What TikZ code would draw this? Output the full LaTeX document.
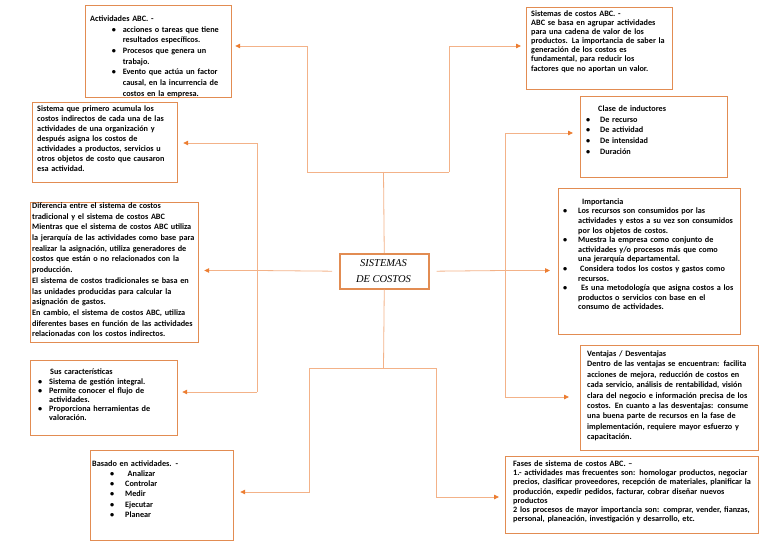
\documentclass[tikz,border=0pt]{standalone}
\usepackage{fontspec}
\setmainfont{Carlito}
\newfontfamily\ctrfont{Liberation Serif}
\usetikzlibrary{arrows.meta}
\definecolor{boxc}{RGB}{226,140,82}
\definecolor{linec}{RGB}{243,178,136}
\definecolor{arrc}{RGB}{236,125,49}
\newcommand\bul[3]{\par\hangindent=#2\hangafter=1\noindent\makebox[#2][l]{\hspace*{#1}\textbullet}#3\par}
\newcommand\ttl[2]{\par\noindent\hspace*{#1}#2\par}
\newcommand\mybox[5]{\node[box,anchor=north west,minimum width={#4-#2},minimum height={#5-#3}] (#1) at (#2,#3) {};}
\begin{document}
\begin{tikzpicture}[x=1pt,y=-1pt,
 box/.style={draw=boxc,line width=1.2pt,inner sep=0pt},
 txt/.style={anchor=north west,inner sep=0pt,text width=262pt,font=\fontsize{8.2}{#1}\selectfont\bfseries},
 ln/.style={draw=linec,line width=0.8pt},
 arr/.style={ln,-{Triangle[length=5pt,width=4.5pt,color=arrc]}}]
\useasboundingbox (0,0) rectangle (768,543);

% boxes
\mybox{A}{85}{5}{231}{97}
\mybox{B}{32}{102}{177}{182}
\mybox{C}{30}{202}{198}{342}
\mybox{D}{30}{360}{177}{435}
\mybox{E}{90}{450}{233}{540}
\mybox{F}{526}{7}{672}{89}
\mybox{G}{580}{96}{727}{177}
\mybox{H}{558}{188}{740}{334}
\mybox{I}{580}{345}{758}{450}
\mybox{J}{505}{456}{758}{533}
\node[box,line width=1.5pt,anchor=north west,minimum width=89,minimum height=35] (C0) at (339,253) {};
\node[font=\ctrfont\itshape\fontsize{10.5}{15.7}\selectfont,align=center,inner sep=0pt] (Ct) at (383.5,270.8) {SISTEMAS\\DE COSTOS};

% texts
\node[txt=10.7] (At) at (90,10.5) {\parindent0pt
\ttl{0pt}{Actividades ABC. -}
\bul{21.7pt}{32.7pt}{acciones o tareas que tiene\newline resultados específicos.}
\bul{21.7pt}{32.7pt}{Procesos que genera un\newline trabajo.}
\bul{21.7pt}{32.7pt}{Evento que actúa un factor\newline causal, en la incurrencia de\newline costos en la empresa.}};

\node[txt=10] (Bt) at (37,105.5) {\parindent0pt
Sistema que primero acumula los\newline costos indirectos de cada una de las\newline actividades de una organización y\newline después asigna los costos de\newline actividades a productos, servicios u\newline otros objetos de costo que causaron\newline esa actividad.};

\node[txt=10.7] (Ctx) at (32,202.5) {\parindent0pt
Diferencia entre el sistema de costos\newline tradicional y el sistema de costos ABC\newline Mientras que el sistema de costos ABC utiliza\newline la jerarquía de las actividades como base para\newline realizar la asignación, utiliza generadores de\newline costos que están o no relacionados con la\newline producción.\newline El sistema de costos tradicionales se basa en\newline las unidades producidas para calcular la\newline asignación de gastos.\newline En cambio, el sistema de costos ABC, utiliza\newline diferentes bases en función de las actividades\newline relacionadas con los costos indirectos.};

\node[txt=9.2] (Dt) at (30,365.5) {\parindent0pt
\ttl{20pt}{Sus características}
\bul{8pt}{19pt}{Sistema de gestión integral.}
\bul{8pt}{19pt}{Permite conocer el flujo de\newline actividades.}
\bul{8pt}{19pt}{Proporciona herramientas de\newline valoración.}};

\node[txt=10.3] (Et) at (92,455.5) {\parindent0pt
\ttl{0pt}{Basado en actividades. -}
\bul{18pt}{33pt}{\hspace*{2.5pt}Analizar}
\bul{18pt}{33pt}{Controlar}
\bul{18pt}{33pt}{Medir}
\bul{18pt}{33pt}{Ejecutar}
\bul{18pt}{33pt}{Planear}};

\node[txt=9.1] (Ft) at (531,10.5) {\parindent0pt
Sistemas de costos ABC. -\newline ABC se basa en agrupar actividades\newline para una cadena de valor de los\newline productos. La importancia de saber la\newline generación de los costos es\newline fundamental, para reducir los\newline factores que no aportan un valor.};

\node[txt=10.7] (Gt) at (580,100.5) {\parindent0pt
\ttl{18pt}{Clase de inductores}
\bul{6pt}{20pt}{De recurso}
\bul{6pt}{20pt}{De actividad}
\bul{6pt}{20pt}{De intensidad}
\bul{6pt}{20pt}{Duración}};

\node[txt=9.6] (Ht) at (562,194.5) {\parindent0pt
\ttl{20pt}{Importancia}
\bul{1pt}{16pt}{Los recursos son consumidos por las\newline actividades y estos a su vez son consumidos\newline por los objetos de costos.}
\bul{1pt}{16pt}{Muestra la empresa como conjunto de\newline actividades y/o procesos más que como\newline una jerarquía departamental.}
\bul{1pt}{16pt}{\hspace*{2pt}Considera todos los costos y gastos como\newline recursos.}
\bul{1pt}{16pt}{\hspace*{3pt}Es una metodología que asigna costos a los\newline productos o servicios con base en el\newline consumo de actividades.}};

\node[txt=10.4] (It) at (587,350.5) {\parindent0pt
Ventajas / Desventajas\newline Dentro de las ventajas se encuentran: facilita\newline acciones de mejora, reducción de costos en\newline cada servicio, análisis de rentabilidad, visión\newline clara del negocio e información precisa de los\newline costos. En cuanto a las desventajas: consume\newline una buena parte de recursos en la fase de\newline implementación, requiere mayor esfuerzo y\newline capacitación.};

\node[txt=9.2] (Jt) at (513,460.5) {\parindent0pt
Fases de sistema de costos ABC. –\newline 1.- actividades mas frecuentes son: homologar productos, negociar\newline precios, clasificar proveedores, recepción de materiales, planificar la\newline producción, expedir pedidos, facturar, cobrar diseñar nuevos\newline productos\newline 2 los procesos de mayor importancia son: comprar, vender, fianzas,\newline personal, planeación, investigación y desarrollo, etc.};

% junction coordinates
\coordinate (L) at (257,270.5);
\coordinate (LT) at (257,143);
\coordinate (LB) at (257,392);
\coordinate (T) at (383.5,172);
\coordinate (TL) at (307,172);
\coordinate (TR) at (449,172);
\coordinate (TLU) at (307,46);
\coordinate (TRU) at (449,46);
\coordinate (R) at (505,270.5);
\coordinate (RT) at (505,133);
\coordinate (RB) at (505,397);
\coordinate (Bm) at (383.5,368);
\coordinate (BL) at (309,368);
\coordinate (BR) at (436,368);
\coordinate (BLD) at (309,492);
\coordinate (BRD) at (436,497);

% connectors
\draw[ln,shorten <=7pt] (C0.west) -- (L);
\draw[arr,shorten >=5pt] (L) -- (C.east |- L);
\draw[ln] (LT) -- (LB);
\draw[arr,shorten >=5pt] (LT) -- (B.east |- LT);
\draw[arr,shorten >=4pt] (LB) -- (D.east |- LB);

\draw[ln] (C0.north) -- (T);
\draw[ln] (TL) -- (TR);
\draw[arr,shorten >=3pt] (TL) -- (TLU) -- (A.east |- TLU);
\draw[arr,shorten >=5pt] (TR) -- (TRU) -- (F.west |- TRU);

\draw[ln,shorten <=7pt] (C0.east) -- (R);
\draw[arr,shorten >=8pt] (R) -- (H.west |- R);
\draw[ln] (RT) -- (RB);
\draw[arr,shorten >=7pt] (RT) -- (G.west |- RT);
\draw[arr,shorten >=11pt] (RB) -- (I.west |- RB);

\draw[ln] (C0.south) -- (Bm);
\draw[ln] (BL) -- (BR);
\draw[arr,shorten >=6pt] (BL) -- (BLD) -- (E.east |- BLD);
\draw[arr,shorten >=6pt] (BR) -- (BRD) -- (J.west |- BRD);
\end{tikzpicture}
\end{document}
